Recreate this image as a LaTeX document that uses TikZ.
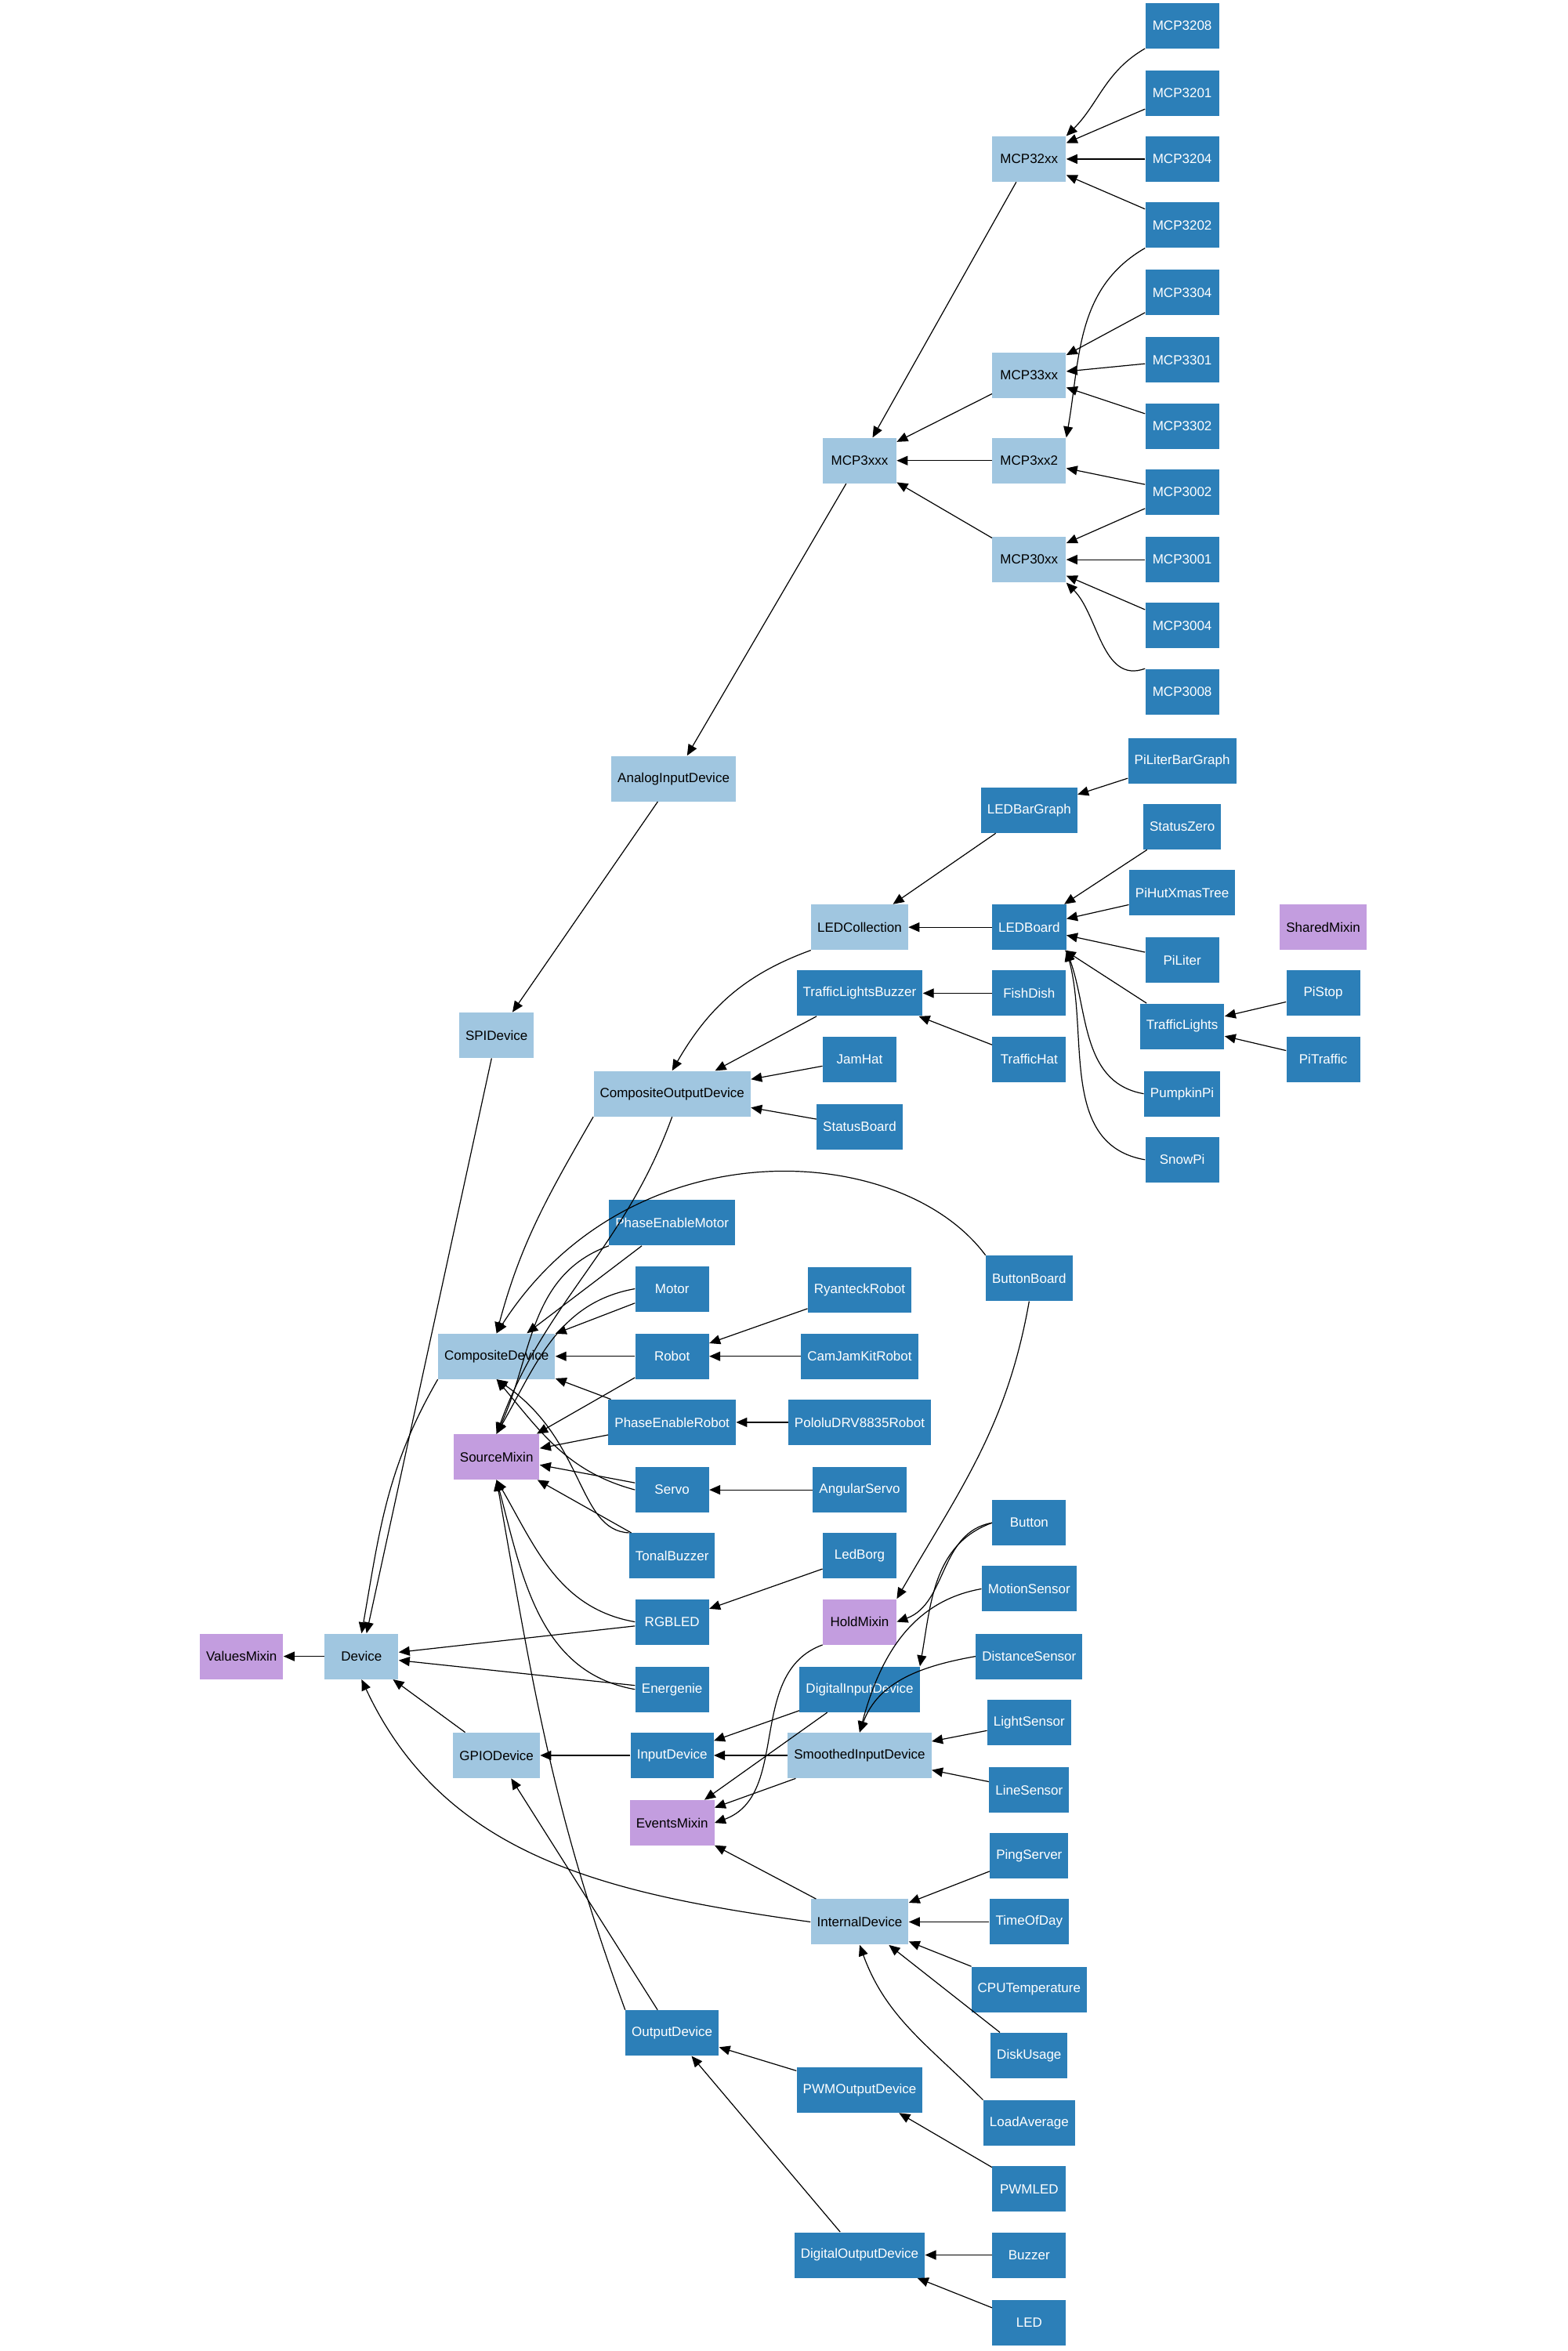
\documentclass[tikz,border=0pt]{standalone}
\usepackage{fontspec}
\setmainfont{Liberation Sans}
\usetikzlibrary{arrows.meta}
\definecolor{dk}{HTML}{2C7FB8}
\definecolor{lt}{HTML}{A0C6E0}
\definecolor{pm}{HTML}{C39DDF}
\begin{document}
\begin{tikzpicture}[x=0.957pt,y=-0.957pt,
 b/.style={draw=none,minimum width=47pt,minimum height=29pt,inner xsep=4pt,font=\fontsize{8.5}{10}\selectfont},
 d/.style={b,fill=dk,text=white},
 l/.style={b,fill=lt,text=black},
 p/.style={b,fill=pm,text=black},
 e/.style={-{Triangle[length=7pt,width=6pt]},line width=0.6pt}]
\useasboundingbox (0,0) rectangle (1045,1567);
\fill[white] (0,0) rectangle (1045,1567);
% right column
\node[d] (m3208) at (788,17) {MCP3208};
\node[d] (m3201) at (788,62) {MCP3201};
\node[d] (m3204) at (788,106) {MCP3204};
\node[d] (m3202) at (788,150) {MCP3202};
\node[d] (m3304) at (788,195) {MCP3304};
\node[d] (m3301) at (788,240) {MCP3301};
\node[d] (m3302) at (788,284) {MCP3302};
\node[d] (m3002) at (788,328) {MCP3002};
\node[d] (m3001) at (788,373) {MCP3001};
\node[d] (m3004) at (788,417) {MCP3004};
\node[d] (m3008) at (788,461) {MCP3008};
\node[l] (m32xx) at (686,106) {MCP32xx};
\node[l] (m33xx) at (686,250) {MCP33xx};
\node[l] (m3xx2) at (686,307) {MCP3xx2};
\node[l] (m30xx) at (686,373) {MCP30xx};
\node[l] (m3xxx) at (573,307) {MCP3xxx};
\node[l] (aid) at (449,519) {AnalogInputDevice};
\node[l] (spi) at (331,690) {SPIDevice};
\node[l] (dev) at (241,1104) {Device};
\node[p] (val) at (161,1104) {ValuesMixin};
\node[d] (lbg) at (686,540) {LEDBarGraph};
\node[d] (plbg) at (788,507) {PiLiterBarGraph};
\node[d] (sz) at (788,551) {StatusZero};
\node[d] (phx) at (788,595) {PiHutXmasTree};
\node[d] (lb) at (686,618) {LEDBoard};
\node[d] (pl) at (788,640) {PiLiter};
\node[d] (tl) at (788,684) {TrafficLights};
\node[d] (ppi) at (788,729) {PumpkinPi};
\node[d] (spi2) at (788,773) {SnowPi};
\node[p] (shm) at (882,618) {SharedMixin};
\node[d] (pst) at (882,662) {PiStop};
\node[d] (ptr) at (882,706) {PiTraffic};
\node[l] (lc) at (573,618) {LEDCollection};
\node[d] (tlb) at (573,662) {TrafficLightsBuzzer};
\node[d] (fd) at (686,662) {FishDish};
\node[d] (th) at (686,706) {TrafficHat};
\node[d] (jh) at (573,706) {JamHat};
\node[d] (sb) at (573,751) {StatusBoard};
\node[l] (cod) at (448,729) {CompositeOutputDevice};
\node[d] (pem) at (448,815) {PhaseEnableMotor};
\node[d] (bb) at (686,852) {ButtonBoard};
\node[d] (mot) at (448,859) {Motor};
\node[d] (rr) at (573,860) {RyanteckRobot};
\node[l] (cd) at (331,904) {CompositeDevice};
\node[d] (rob) at (448,904) {Robot};
\node[d] (cjk) at (573,904) {CamJamKitRobot};
\node[d] (per) at (448,948) {PhaseEnableRobot};
\node[d] (pol) at (573,948) {PololuDRV8835Robot};
\node[p] (sm) at (331,971) {SourceMixin};
\node[d] (srv) at (448,993) {Servo};
\node[d] (asrv) at (573,993) {AngularServo};
\node[d] (tb) at (448,1037) {TonalBuzzer};
\node[d] (lbo) at (573,1037) {LedBorg};
\node[d] (btn) at (686,1015) {Button};
\node[d] (rgb) at (448,1081) {RGBLED};
\node[p] (hm) at (573,1081) {HoldMixin};
\node[d] (ms) at (686,1059) {MotionSensor};
\node[d] (ds) at (686,1104) {DistanceSensor};
\node[d] (en) at (448,1126) {Energenie};
\node[d] (did) at (573,1126) {DigitalInputDevice};
\node[d] (ls) at (686,1148) {LightSensor};
\node[l] (gpio) at (331,1170) {GPIODevice};
\node[d] (id) at (448,1170) {InputDevice};
\node[l] (sid) at (573,1170) {SmoothedInputDevice};
\node[d] (lns) at (686,1193) {LineSensor};
\node[p] (em) at (448,1215) {EventsMixin};
\node[d] (ps) at (686,1237) {PingServer};
\node[l] (intd) at (573,1281) {InternalDevice};
\node[d] (tod) at (686,1281) {TimeOfDay};
\node[d] (cpu) at (686,1326) {CPUTemperature};
\node[d] (od) at (448,1355) {OutputDevice};
\node[d] (du) at (686,1370) {DiskUsage};
\node[d] (pwm) at (573,1393) {PWMOutputDevice};
\node[d] (la) at (686,1415) {LoadAverage};
\node[d] (pled) at (686,1459) {PWMLED};
\node[d] (dod) at (573,1503) {DigitalOutputDevice};
\node[d] (bz) at (686,1503) {Buzzer};
\node[d] (led) at (686,1548) {LED};
% edges
\draw[e] (m3208.south west) to[out=210,in=45] (m32xx.north east);
\draw[e] (m3201) -- (m32xx);
\draw[e] (m3204) -- (m32xx);
\draw[e] (m3202) -- (m32xx);
\draw[e] (m3202.south west) to[out=210,in=80] (m3xx2.north east);
\draw[e] (m3304) -- (m33xx);
\draw[e] (m3301) -- (m33xx);
\draw[e] (m3302) -- (m33xx);
\draw[e] (m3002) -- (m3xx2);
\draw[e] (m3002) -- (m30xx);
\draw[e] (m3001) -- (m30xx);
\draw[e] (m3004) -- (m30xx);
\draw[e] (m3008.north west) to[out=200,in=-45] (m30xx.south east);
\draw[e] (m32xx) -- (m3xxx);
\draw[e] (m33xx) -- (m3xxx);
\draw[e] (m3xx2) -- (m3xxx);
\draw[e] (m30xx) -- (m3xxx);
\draw[e] (m3xxx) -- (aid);
\draw[e] (aid) -- (spi);
\draw[e] (spi) -- (dev);
\draw[e] (dev) -- (val);
\draw[e] (plbg) -- (lbg);
\draw[e] (lbg) -- (lc);
\draw[e] (sz) -- (lb);
\draw[e] (phx) -- (lb);
\draw[e] (pl) -- (lb);
\draw[e] (tl) -- (lb);
\draw[e] (ppi.west) to[out=170,in=-70] (lb.south east);
\draw[e] (spi2.west) to[out=170,in=-75] (lb.south east);
\draw[e] (pst) -- (tl);
\draw[e] (ptr) -- (tl);
\draw[e] (lb) -- (lc);
\draw[e] (lc.south west) to[out=200,in=60] (cod.north);
\draw[e] (fd) -- (tlb);
\draw[e] (th) -- (tlb);
\draw[e] (tlb) -- (cod);
\draw[e] (jh) -- (cod);
\draw[e] (sb) -- (cod);
\draw[e] (cod.south west) to[out=240,in=75] (cd.north);
\draw[e] (cod.south) to[out=250,in=70] (sm.north);
\draw[e] (bb.north west) .. controls (600,760) and (420,750) .. (cd.north);
\draw[e] (bb.south) to[out=260,in=60] (hm.north east);
\draw[e] (pem) -- (cd);
\draw[e] (pem.south west) to[out=200,in=65] (sm.north);
\draw[e] (mot) -- (cd);
\draw[e] (mot.west) to[out=190,in=60] (sm.north);
\draw[e] (rr) -- (rob);
\draw[e] (cjk) -- (rob);
\draw[e] (rob) -- (cd);
\draw[e] (rob) -- (sm);
\draw[e] (per) -- (cd);
\draw[e] (per) -- (sm);
\draw[e] (pol) -- (per);
\draw[e] (srv.west) to[out=165,in=-50] (cd.south);
\draw[e] (srv) -- (sm);
\draw[e] (asrv) -- (srv);
\draw[e] (tb.north west) .. controls (385,1020) and (390,960) .. (cd.south);
\draw[e] (tb) -- (sm);
\draw[e] (lbo) -- (rgb);
\draw[e] (rgb.west) to[out=170,in=-60] (sm.south);
\draw[e] (rgb) -- (dev);
\draw[e] (en.west) to[out=170,in=-75] (sm.south);
\draw[e] (en) -- (dev);
\draw[e] (cd.south west) to[out=240,in=80] (dev.north);
\draw[e] (btn.west) to[out=190,in=20] (hm.east);
\draw[e] (btn.west) to[out=200,in=80] (did.north east);
\draw[e] (ms.west) to[out=190,in=75] (sid.north);
\draw[e] (ds.west) to[out=190,in=70] (sid.north);
\draw[e] (ls) -- (sid);
\draw[e] (lns) -- (sid);
\draw[e] (hm.south west) to[out=200,in=20] (em.east);
\draw[e] (did) -- (id);
\draw[e] (did) -- (em);
\draw[e] (sid) -- (id);
\draw[e] (sid) -- (em);
\draw[e] (id) -- (gpio);
\draw[e] (gpio) -- (dev);
\draw[e] (intd.west) to[out=172,in=-65] (dev.south);
\draw[e] (intd) -- (em);
\draw[e] (ps) -- (intd);
\draw[e] (tod) -- (intd);
\draw[e] (cpu) -- (intd);
\draw[e] (du) -- (intd);
\draw[e] (la.north west) to[out=135,in=-70] (intd.south);
\draw[e] (od.north west) to[out=110,in=-80] (sm.south);
\draw[e] (od) -- (gpio);
\draw[e] (pwm) -- (od);
\draw[e] (pled) -- (pwm);
\draw[e] (dod) -- (od);
\draw[e] (bz) -- (dod);
\draw[e] (led) -- (dod);
\end{tikzpicture}
\end{document}
